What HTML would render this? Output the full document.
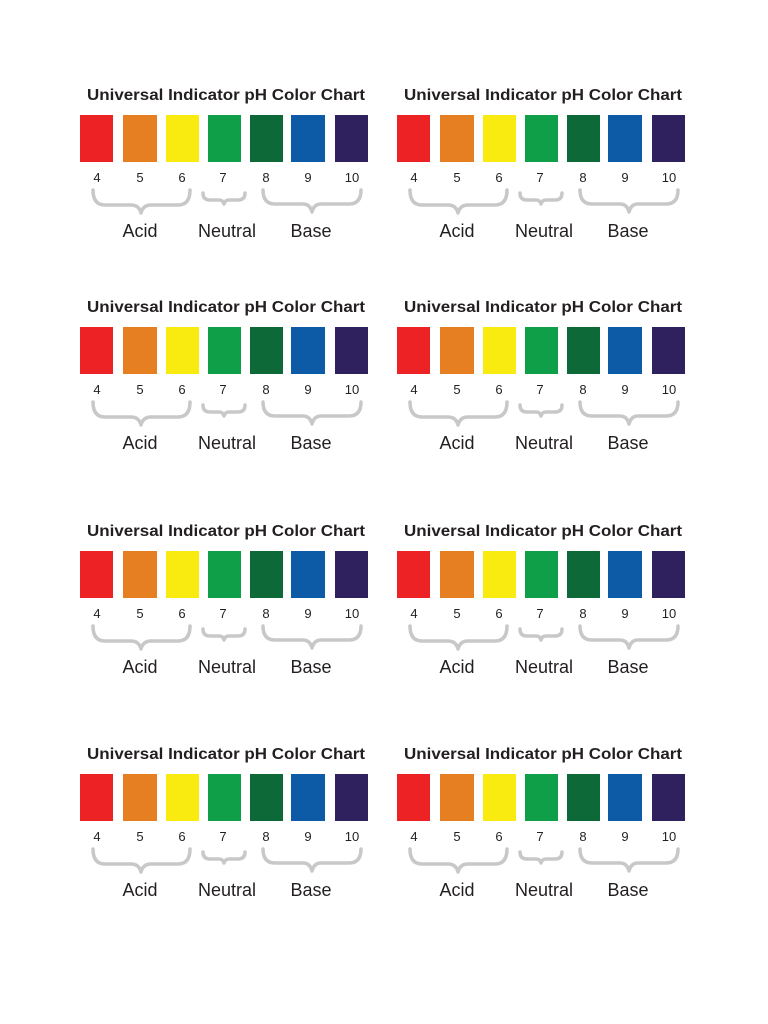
<!DOCTYPE html>
<html><head><meta charset="utf-8"><style>
html,body{margin:0;padding:0;background:#fff;width:768px;height:1024px;overflow:hidden;position:relative}
svg{position:absolute}
.t{font:bold 16px "Liberation Sans",sans-serif;fill:#231f20}
.n{font:13px "Liberation Sans",sans-serif;fill:#231f20;text-anchor:middle}
.l{font:18px "Liberation Sans",sans-serif;fill:#231f20;text-anchor:middle}
.b{fill:none;stroke:#c8c8c8;stroke-width:3.5;stroke-linecap:round;stroke-linejoin:round}
</style></head><body>
<svg width="0" height="0" style="position:absolute">
<defs>
<g id="sw">
<rect x="5" y="35" width="33" height="47" fill="#ed2224"/>
<rect x="48" y="35" width="34" height="47" fill="#e67f22"/>
<rect x="91" y="35" width="33" height="47" fill="#f9ea0f"/>
<rect x="133" y="35" width="33" height="47" fill="#0f9f48"/>
<rect x="175" y="35" width="33" height="47" fill="#0d6a38"/>
<rect x="216" y="35" width="34" height="47" fill="#0d5aa7"/>
<rect x="260" y="35" width="33" height="47" fill="#2e215e"/>
<path class="b" d="M18,110 Q18,125 30,125 L56,125 Q64,125 66,133 Q68,125 76,125 L103,125 Q115,125 115,110"/>
<path class="b" d="M128,113 Q128,120 135,120 L144,120 Q148,120 149,124 Q150,120 154,120 L163,120 Q170,120 170,113"/>
<path class="b" d="M188,110 Q188,124 200,124 L228,124 Q235,124 237,132 Q239,124 246,124 L274,124 Q286,124 286,110"/>
</g>
</defs>
</svg>
<svg style="left:75px;top:80px" width="300" height="170"><use href="#sw"/><text class="t" x="12" y="20" textLength="278" lengthAdjust="spacingAndGlyphs">Universal Indicator pH Color Chart</text><text class="n" x="22" y="102">4</text><text class="n" x="65" y="102">5</text><text class="n" x="107" y="102">6</text><text class="n" x="148" y="102">7</text><text class="n" x="191" y="102">8</text><text class="n" x="233" y="102">9</text><text class="n" x="277" y="102">10</text><text class="l" x="65" y="157">Acid</text><text class="l" x="152" y="157">Neutral</text><text class="l" x="236" y="157">Base</text></svg>
<svg style="left:392px;top:80px" width="300" height="170"><use href="#sw"/><text class="t" x="12" y="20" textLength="278" lengthAdjust="spacingAndGlyphs">Universal Indicator pH Color Chart</text><text class="n" x="22" y="102">4</text><text class="n" x="65" y="102">5</text><text class="n" x="107" y="102">6</text><text class="n" x="148" y="102">7</text><text class="n" x="191" y="102">8</text><text class="n" x="233" y="102">9</text><text class="n" x="277" y="102">10</text><text class="l" x="65" y="157">Acid</text><text class="l" x="152" y="157">Neutral</text><text class="l" x="236" y="157">Base</text></svg>
<svg style="left:75px;top:292px" width="300" height="170"><use href="#sw"/><text class="t" x="12" y="20" textLength="278" lengthAdjust="spacingAndGlyphs">Universal Indicator pH Color Chart</text><text class="n" x="22" y="102">4</text><text class="n" x="65" y="102">5</text><text class="n" x="107" y="102">6</text><text class="n" x="148" y="102">7</text><text class="n" x="191" y="102">8</text><text class="n" x="233" y="102">9</text><text class="n" x="277" y="102">10</text><text class="l" x="65" y="157">Acid</text><text class="l" x="152" y="157">Neutral</text><text class="l" x="236" y="157">Base</text></svg>
<svg style="left:392px;top:292px" width="300" height="170"><use href="#sw"/><text class="t" x="12" y="20" textLength="278" lengthAdjust="spacingAndGlyphs">Universal Indicator pH Color Chart</text><text class="n" x="22" y="102">4</text><text class="n" x="65" y="102">5</text><text class="n" x="107" y="102">6</text><text class="n" x="148" y="102">7</text><text class="n" x="191" y="102">8</text><text class="n" x="233" y="102">9</text><text class="n" x="277" y="102">10</text><text class="l" x="65" y="157">Acid</text><text class="l" x="152" y="157">Neutral</text><text class="l" x="236" y="157">Base</text></svg>
<svg style="left:75px;top:516px" width="300" height="170"><use href="#sw"/><text class="t" x="12" y="20" textLength="278" lengthAdjust="spacingAndGlyphs">Universal Indicator pH Color Chart</text><text class="n" x="22" y="102">4</text><text class="n" x="65" y="102">5</text><text class="n" x="107" y="102">6</text><text class="n" x="148" y="102">7</text><text class="n" x="191" y="102">8</text><text class="n" x="233" y="102">9</text><text class="n" x="277" y="102">10</text><text class="l" x="65" y="157">Acid</text><text class="l" x="152" y="157">Neutral</text><text class="l" x="236" y="157">Base</text></svg>
<svg style="left:392px;top:516px" width="300" height="170"><use href="#sw"/><text class="t" x="12" y="20" textLength="278" lengthAdjust="spacingAndGlyphs">Universal Indicator pH Color Chart</text><text class="n" x="22" y="102">4</text><text class="n" x="65" y="102">5</text><text class="n" x="107" y="102">6</text><text class="n" x="148" y="102">7</text><text class="n" x="191" y="102">8</text><text class="n" x="233" y="102">9</text><text class="n" x="277" y="102">10</text><text class="l" x="65" y="157">Acid</text><text class="l" x="152" y="157">Neutral</text><text class="l" x="236" y="157">Base</text></svg>
<svg style="left:75px;top:739px" width="300" height="170"><use href="#sw"/><text class="t" x="12" y="20" textLength="278" lengthAdjust="spacingAndGlyphs">Universal Indicator pH Color Chart</text><text class="n" x="22" y="102">4</text><text class="n" x="65" y="102">5</text><text class="n" x="107" y="102">6</text><text class="n" x="148" y="102">7</text><text class="n" x="191" y="102">8</text><text class="n" x="233" y="102">9</text><text class="n" x="277" y="102">10</text><text class="l" x="65" y="157">Acid</text><text class="l" x="152" y="157">Neutral</text><text class="l" x="236" y="157">Base</text></svg>
<svg style="left:392px;top:739px" width="300" height="170"><use href="#sw"/><text class="t" x="12" y="20" textLength="278" lengthAdjust="spacingAndGlyphs">Universal Indicator pH Color Chart</text><text class="n" x="22" y="102">4</text><text class="n" x="65" y="102">5</text><text class="n" x="107" y="102">6</text><text class="n" x="148" y="102">7</text><text class="n" x="191" y="102">8</text><text class="n" x="233" y="102">9</text><text class="n" x="277" y="102">10</text><text class="l" x="65" y="157">Acid</text><text class="l" x="152" y="157">Neutral</text><text class="l" x="236" y="157">Base</text></svg>
</body></html>
